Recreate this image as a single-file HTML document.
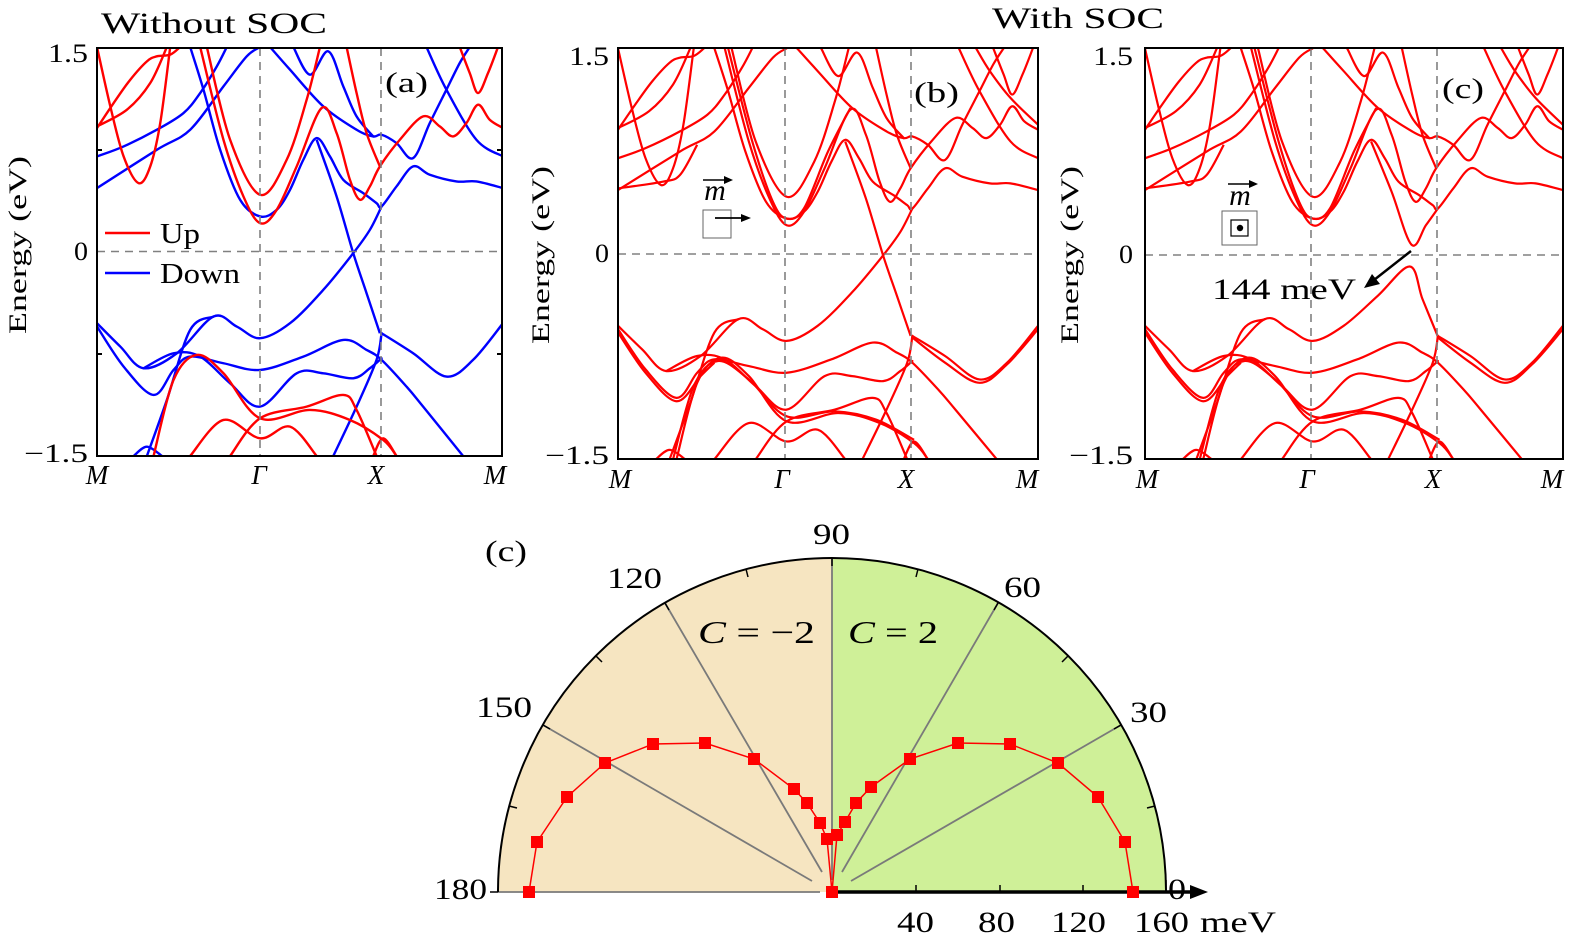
<!DOCTYPE html>
<html><head><meta charset="utf-8"><style>
html,body{margin:0;padding:0;background:#fff;}
svg{display:block;font-family:"Liberation Serif",serif;}
</style></head><body>
<svg id="S" width="1574" height="947" viewBox="0 0 1574 947" xmlns="http://www.w3.org/2000/svg">
<defs>
<g id="bandsBlue" fill="none" stroke-linejoin="round" stroke-linecap="round">
<polyline vector-effect="non-scaling-stroke" points="20,445 200,330 300,270 400,140 470,50 510,22"/>
<polyline vector-effect="non-scaling-stroke" points="540,22 600,90 700,200 800,270 850,290 875,285 920,310 970,355 1020,250 1070,150 1110,70 1140,22"/>
<polyline vector-effect="non-scaling-stroke" points="20,350 100,320 200,270 280,220 330,160 380,80 410,22"/>
<polyline vector-effect="non-scaling-stroke" points="300,22 340,150 390,330 450,480 510,530 560,510 600,450 640,360 680,295 720,350 760,420 820,460 860,490 875,500 920,440 970,380 1020,405 1100,425 1160,425 1240,445"/>
<polyline vector-effect="non-scaling-stroke" points="610,22 660,105 715,35 760,140 800,230 850,290"/>
<polyline vector-effect="non-scaling-stroke" points="875,880 970,940 1070,1010 1150,960 1240,850"/>
<polyline vector-effect="non-scaling-stroke" points="170,1248 230,1080 300,870 370,830"/>
<polyline vector-effect="non-scaling-stroke" points="20,860 100,980 190,1065 250,990 300,950 400,970 510,990 640,950 760,900 830,930 875,960 950,1040 1000,1100 1120,1248"/>
<polyline vector-effect="non-scaling-stroke" points="160,985 250,940 330,950 420,1030 510,1100 620,1000 700,1000 790,1015 840,985 875,955"/>
<polyline vector-effect="non-scaling-stroke" points="730,1248 800,1100 860,960 875,880"/>
<polyline vector-effect="non-scaling-stroke" points="130,1248 170,1220 215,1248"/>
<polyline vector-effect="non-scaling-stroke" points="1010,22 1070,150 1160,300 1240,350"/>
</g>
<g id="crossA" fill="none" stroke-linejoin="round">
<polyline vector-effect="non-scaling-stroke" points="680,300 740,470 790,640 830,760 870,880"/>
<polyline vector-effect="non-scaling-stroke" points="20,850 90,920 160,985 260,940 370,830 440,860 510,895 600,850 700,750 790,640 840,570 875,500"/>
</g>
<g id="crossC" fill="none" stroke-linejoin="round">
<polyline vector-effect="non-scaling-stroke" points="680,300 740,450 798,608 840,550 875,500"/>
<polyline vector-effect="non-scaling-stroke" points="20,850 90,920 160,985 260,940 370,830 440,860 510,895 600,850 700,760 793,673 830,770 875,882"/>
</g>
<g id="bandsRed" fill="none" stroke-linejoin="round">
<polyline vector-effect="non-scaling-stroke" points="350,22 420,300 510,465 590,360 650,180 690,22"/>
<polyline vector-effect="non-scaling-stroke" points="330,22 400,300 460,470 510,550 560,510 620,380 695,205 740,280 780,420 810,480 840,440 870,380 930,300 1000,230 1050,260 1090,290 1130,250 1165,195 1200,240 1240,265"/>
<polyline vector-effect="non-scaling-stroke" points="20,265 70,190 120,120 170,65 200,50 240,45 270,22"/>
<polyline vector-effect="non-scaling-stroke" points="20,22 60,200 100,350 145,430 180,380 210,250 240,22"/>
<polyline vector-effect="non-scaling-stroke" points="20,260 110,210 180,130 230,22"/>
<polyline vector-effect="non-scaling-stroke" points="770,22 800,160 830,280 870,380"/>
<polyline vector-effect="non-scaling-stroke" points="1110,22 1140,100 1165,160 1195,100 1225,22"/>
<polyline vector-effect="non-scaling-stroke" points="190,1248 250,1020 320,945 400,1000 510,1135 660,1110 780,1140 880,1200 920,1248"/>
<polyline vector-effect="non-scaling-stroke" points="300,1248 400,1140 510,1195 600,1160 680,1248"/>
<polyline vector-effect="non-scaling-stroke" points="420,1248 510,1135 650,1100 760,1065 800,1110 860,1248"/>
<polyline vector-effect="non-scaling-stroke" points="850,1248 880,1195 920,1248"/>
</g>
<g id="extraSOC" fill="none" stroke-linejoin="round">
<polyline vector-effect="non-scaling-stroke" points="340,22 410,300 470,480 510,530 560,500 630,330 695,200"/>
<polyline vector-effect="non-scaling-stroke" points="180,1248 240,1030 310,955 400,1010 510,1120 650,1105 770,1130 880,1190"/>
<polyline vector-effect="non-scaling-stroke" points="20,870 100,990 190,1075 260,1000 300,960"/>
<polyline vector-effect="non-scaling-stroke" points="875,885 970,960 1070,1020 1150,965 1240,860"/>
<polyline vector-effect="non-scaling-stroke" points="20,440 150,420 200,400 250,310"/>
<polyline vector-effect="non-scaling-stroke" points="1060,22 1100,90 1160,170 1240,250"/>
</g>
<clipPath id="ca"><rect x="97" y="48" width="405" height="408"/></clipPath>
<clipPath id="cb"><rect x="618" y="48" width="420" height="411"/></clipPath>
<clipPath id="cc"><rect x="1145" y="48" width="418" height="411"/></clipPath>
</defs>

<text x="101" y="33" font-size="30" textLength="226" lengthAdjust="spacingAndGlyphs">Without SOC</text>
<text x="992" y="28" font-size="30" textLength="172" lengthAdjust="spacingAndGlyphs">With SOC</text>

<!-- Panel a -->
<g clip-path="url(#ca)">
<g transform="matrix(0.3328,0,0,0.3336,90.34,39.66)">
<use href="#bandsBlue" stroke="#0000ff" stroke-width="2.4"/>
<use href="#crossA" stroke="#0000ff" stroke-width="2.4"/>
<use href="#bandsRed" stroke="#ff0000" stroke-width="2.4"/>
</g>
</g>
<g stroke="#808080" stroke-width="1.6" stroke-dasharray="8,6" fill="none">
<line x1="97" y1="251.5" x2="502" y2="251.5"/>
<line x1="260" y1="48" x2="260" y2="456"/>
<line x1="381" y1="48" x2="381" y2="456"/>
</g>
<rect x="97" y="48" width="405" height="408" fill="none" stroke="#000" stroke-width="2"/>
<g stroke="#000" stroke-width="2"><line x1="97" y1="150" x2="102" y2="150"/><line x1="497" y1="150" x2="502" y2="150"/><line x1="97" y1="354" x2="102" y2="354"/><line x1="497" y1="354" x2="502" y2="354"/></g>
<text x="385" y="92" font-size="28" textLength="43" lengthAdjust="spacingAndGlyphs">(a)</text>
<line x1="105" y1="233" x2="150" y2="233" stroke="#ff0000" stroke-width="2.5"/>
<text x="160" y="243" font-size="28" textLength="40" lengthAdjust="spacingAndGlyphs">Up</text>
<line x1="105" y1="273" x2="150" y2="273" stroke="#0000ff" stroke-width="2.5"/>
<text x="160" y="283" font-size="28" textLength="80" lengthAdjust="spacingAndGlyphs">Down</text>
<g font-size="26">
<text x="48" y="62" textLength="40" lengthAdjust="spacingAndGlyphs">1.5</text>
<text x="74" y="260" textLength="14" lengthAdjust="spacingAndGlyphs">0</text>
<text x="24" y="462" textLength="64" lengthAdjust="spacingAndGlyphs">−1.5</text>
</g>
<text transform="translate(26,245) rotate(-90)" font-size="25" text-anchor="middle" textLength="178" lengthAdjust="spacingAndGlyphs">Energy (eV)</text>
<g font-size="27" font-style="italic" text-anchor="middle">
<text x="97" y="484">M</text><text x="259" y="484">Γ</text><text x="376" y="484">X</text><text x="495" y="484">M</text>
</g>

<!-- Panel b -->
<g clip-path="url(#cb)">
<g transform="matrix(0.3443,0,0,0.3352,611.1,40.9)" stroke="#ff0000" stroke-width="2.2">
<use href="#bandsBlue"/><use href="#crossA"/><use href="#bandsRed"/><use href="#extraSOC"/>
</g>
</g>
<g stroke="#808080" stroke-width="1.6" stroke-dasharray="8,6" fill="none">
<line x1="618" y1="254" x2="1038" y2="254"/>
<line x1="785" y1="48" x2="785" y2="459"/>
<line x1="911" y1="48" x2="911" y2="459"/>
</g>
<rect x="618" y="48" width="420" height="411" fill="none" stroke="#000" stroke-width="2"/>
<text x="914" y="102" font-size="28" textLength="45" lengthAdjust="spacingAndGlyphs">(b)</text>
<g font-size="26">
<text x="569" y="65" textLength="40" lengthAdjust="spacingAndGlyphs">1.5</text>
<text x="595" y="262" textLength="14" lengthAdjust="spacingAndGlyphs">0</text>
<text x="545" y="464" textLength="64" lengthAdjust="spacingAndGlyphs">−1.5</text>
</g>
<text transform="translate(549,255) rotate(-90)" font-size="25" text-anchor="middle" textLength="178" lengthAdjust="spacingAndGlyphs">Energy (eV)</text>
<g font-size="27" font-style="italic" text-anchor="middle">
<text x="620" y="488">M</text><text x="782" y="488">Γ</text><text x="906" y="488">X</text><text x="1027" y="488">M</text>
</g>
<text x="715" y="200" font-size="30" font-style="italic" text-anchor="middle">m</text>
<line x1="703" y1="180" x2="727" y2="180" stroke="#000" stroke-width="1.5"/><polygon points="733,180 724,176 724,184" fill="#000"/>
<rect x="703" y="210" width="28" height="28" fill="none" stroke="#666" stroke-width="1"/>
<line x1="715" y1="218" x2="742" y2="218" stroke="#000" stroke-width="1.8"/><polygon points="751,218 741,214 741,222" fill="#000"/>

<!-- Panel c -->
<g clip-path="url(#cc)">
<g transform="matrix(0.3426,0,0,0.3352,1138.1,40.9)" stroke="#ff0000" stroke-width="2.2">
<use href="#bandsBlue"/><use href="#crossC"/><use href="#bandsRed"/><use href="#extraSOC"/>
</g>
</g>
<g stroke="#808080" stroke-width="1.6" stroke-dasharray="8,6" fill="none">
<line x1="1145" y1="255" x2="1563" y2="255"/>
<line x1="1311" y1="48" x2="1311" y2="459"/>
<line x1="1437" y1="48" x2="1437" y2="459"/>
</g>
<rect x="1145" y="48" width="418" height="411" fill="none" stroke="#000" stroke-width="2"/>
<text x="1442" y="98" font-size="28" textLength="42" lengthAdjust="spacingAndGlyphs">(c)</text>
<g font-size="26">
<text x="1093" y="65" textLength="40" lengthAdjust="spacingAndGlyphs">1.5</text>
<text x="1119" y="263" textLength="14" lengthAdjust="spacingAndGlyphs">0</text>
<text x="1069" y="464" textLength="64" lengthAdjust="spacingAndGlyphs">−1.5</text>
</g>
<text transform="translate(1078,255) rotate(-90)" font-size="25" text-anchor="middle" textLength="178" lengthAdjust="spacingAndGlyphs">Energy (eV)</text>
<g font-size="27" font-style="italic" text-anchor="middle">
<text x="1147" y="488">M</text><text x="1307" y="488">Γ</text><text x="1433" y="488">X</text><text x="1552" y="488">M</text>
</g>
<text x="1240" y="205" font-size="30" font-style="italic" text-anchor="middle">m</text>
<line x1="1228" y1="184" x2="1252" y2="184" stroke="#000" stroke-width="1.5"/><polygon points="1258,184 1249,180 1249,188" fill="#000"/>
<rect x="1222" y="211" width="35" height="34" fill="none" stroke="#666" stroke-width="1"/>
<rect x="1231" y="220" width="17" height="16" fill="none" stroke="#000" stroke-width="1.2"/>
<circle cx="1240" cy="228" r="3.2" fill="#000"/>
<text x="1212" y="299" font-size="30" textLength="144" lengthAdjust="spacingAndGlyphs">144 meV</text>
<line x1="1411" y1="251" x2="1374" y2="280" stroke="#000" stroke-width="2.5"/>
<polygon points="1364,288 1372,274 1380,284" fill="#000"/>

<!-- Polar -->
<path d="M498,892 A334,334 0 0 1 832,558 L832,892 Z" fill="#f6e5c1"/>
<path d="M832,558 A334,334 0 0 1 1166,892 L832,892 Z" fill="#cff098"/>
<g stroke="#7a7a7a" stroke-width="1.8">
<line x1="832" y1="558" x2="832" y2="880"/>
<line x1="998" y1="603" x2="842" y2="872"/>
<line x1="1121" y1="725" x2="851" y2="881"/>
<line x1="665" y1="603" x2="822" y2="872"/>
<line x1="543" y1="725" x2="812" y2="881"/>
<line x1="498" y1="892" x2="820" y2="892"/>
</g>
<path d="M498,892 A334,334 0 0 1 1166,892" fill="none" stroke="#000" stroke-width="2"/>
<g stroke="#000" stroke-width="1.5">
<line x1="832" y1="558" x2="832" y2="566"/>
<line x1="918" y1="569" x2="916" y2="577"/><line x1="746" y1="569" x2="748" y2="577"/>
<line x1="998" y1="603" x2="994" y2="610"/><line x1="665" y1="603" x2="669" y2="610"/>
<line x1="1068" y1="656" x2="1062" y2="662"/><line x1="596" y1="656" x2="602" y2="662"/>
<line x1="1121" y1="725" x2="1114" y2="729"/><line x1="543" y1="725" x2="550" y2="729"/>
<line x1="1155" y1="806" x2="1147" y2="808"/><line x1="509" y1="806" x2="517" y2="808"/>
<line x1="490" y1="892" x2="498" y2="892"/>
</g>
<line x1="832" y1="892" x2="1196" y2="892" stroke="#000" stroke-width="3.5"/>
<polygon points="1208,892 1190,885 1190,899" fill="#000"/>
<g stroke="#000" stroke-width="1.5">
<line x1="916" y1="892" x2="916" y2="885"/><line x1="1000" y1="892" x2="1000" y2="885"/>
<line x1="1083" y1="892" x2="1083" y2="885"/><line x1="1166" y1="892" x2="1166" y2="880"/>
</g>
<g font-size="30" lengthAdjust="spacingAndGlyphs">
<text x="897" y="932" textLength="37" lengthAdjust="spacingAndGlyphs">40</text>
<text x="978" y="932" textLength="37" lengthAdjust="spacingAndGlyphs">80</text>
<text x="1051" y="932" textLength="55" lengthAdjust="spacingAndGlyphs">120</text>
<text x="1134" y="932" textLength="55" lengthAdjust="spacingAndGlyphs">160</text>
<text x="1200" y="932" textLength="76" lengthAdjust="spacingAndGlyphs">meV</text>
<text x="813" y="544" textLength="37" lengthAdjust="spacingAndGlyphs">90</text>
<text x="1004" y="597" textLength="37" lengthAdjust="spacingAndGlyphs">60</text>
<text x="1130" y="722" textLength="37" lengthAdjust="spacingAndGlyphs">30</text>
<text x="1168" y="899" textLength="18" lengthAdjust="spacingAndGlyphs">0</text>
<text x="607" y="588" textLength="55" lengthAdjust="spacingAndGlyphs">120</text>
<text x="476" y="717" textLength="56" lengthAdjust="spacingAndGlyphs">150</text>
<text x="434" y="899" textLength="53" lengthAdjust="spacingAndGlyphs">180</text>
<text x="485" y="561" textLength="42" lengthAdjust="spacingAndGlyphs">(c)</text>
</g>
<text x="698" y="643" font-size="32" textLength="117" lengthAdjust="spacingAndGlyphs"><tspan font-style="italic">C</tspan> = −2</text>
<text x="848" y="643" font-size="32" textLength="90" lengthAdjust="spacingAndGlyphs"><tspan font-style="italic">C</tspan> = 2</text>
<polyline fill="none" stroke="#ff0000" stroke-width="1.5" points="529,892 537,842 567,797 605,763 653,744 705,743 754,759 794,789 807,803 820,823 827,839 832,892 837,835 845,822 856,803 871,787 910,759 958,743 1010,744 1058,763 1098,797 1125,842 1133,892"/>
<g fill="#ff0000">
<rect x="523" y="886" width="12" height="12"/><rect x="531" y="836" width="12" height="12"/><rect x="561" y="791" width="12" height="12"/><rect x="599" y="757" width="12" height="12"/><rect x="647" y="738" width="12" height="12"/><rect x="699" y="737" width="12" height="12"/><rect x="748" y="753" width="12" height="12"/><rect x="788" y="783" width="12" height="12"/><rect x="801" y="797" width="12" height="12"/><rect x="814" y="817" width="12" height="12"/><rect x="821" y="833" width="12" height="12"/><rect x="826" y="886" width="12" height="12"/><rect x="831" y="829" width="12" height="12"/><rect x="839" y="816" width="12" height="12"/><rect x="850" y="797" width="12" height="12"/><rect x="865" y="781" width="12" height="12"/><rect x="904" y="753" width="12" height="12"/><rect x="952" y="737" width="12" height="12"/><rect x="1004" y="738" width="12" height="12"/><rect x="1052" y="757" width="12" height="12"/><rect x="1092" y="791" width="12" height="12"/><rect x="1119" y="836" width="12" height="12"/><rect x="1127" y="886" width="12" height="12"/>
</g>
</svg>
<script>
(function(){
  var ns="http://www.w3.org/2000/svg";
  document.querySelectorAll("defs polyline").forEach(function(pl){
    var a=pl.getAttribute("points").trim().split(/\s+/).map(function(s){var p=s.split(",");return [+p[0],+p[1]];});
    if(a.length<3)return;
    var d="M"+a[0][0]+","+a[0][1];
    for(var i=0;i<a.length-1;i++){
      var p0=a[i-1]||a[i],p1=a[i],p2=a[i+1],p3=a[i+2]||a[i+1];
      var c1=[p1[0]+(p2[0]-p0[0])/6,p1[1]+(p2[1]-p0[1])/6];
      var c2=[p2[0]-(p3[0]-p1[0])/6,p2[1]-(p3[1]-p1[1])/6];
      d+=" C"+c1[0].toFixed(1)+","+c1[1].toFixed(1)+" "+c2[0].toFixed(1)+","+c2[1].toFixed(1)+" "+p2[0]+","+p2[1];
    }
    var path=document.createElementNS(ns,"path");
    path.setAttribute("d",d);
    path.setAttribute("vector-effect","non-scaling-stroke");
    pl.parentNode.replaceChild(path,pl);
  });
})();
</script>
</body></html>
